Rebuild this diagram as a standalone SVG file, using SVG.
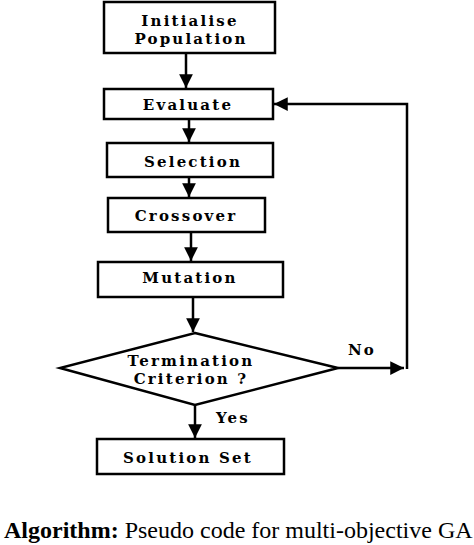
<svg xmlns="http://www.w3.org/2000/svg" width="474" height="545" viewBox="0 0 474 545">
<style>
.box{fill:#fff;stroke:#000;stroke-width:2.5}
.t{font-family:"DejaVu Serif",serif;font-weight:bold;font-size:15px;letter-spacing:2.2px;text-anchor:middle;fill:#000}
.c{stroke:#000;stroke-width:2.5;fill:none}
</style>
<defs>
<marker id="ah" viewBox="0 0 10 10" refX="10" refY="5" markerWidth="5.5" markerHeight="5.5" orient="auto" markerUnits="strokeWidth">
<path d="M0,0 L10,5 L0,10 z" fill="#000"/>
</marker>
</defs>
<rect width="474" height="545" fill="#fff"/>
<g id="connectors">
<line class="c" x1="186" y1="53" x2="186" y2="88" marker-end="url(#ah)"/>
<line class="c" x1="189" y1="119" x2="189" y2="142" marker-end="url(#ah)"/>
<line class="c" x1="189" y1="177" x2="189" y2="197" marker-end="url(#ah)"/>
<line class="c" x1="191" y1="232" x2="191" y2="261" marker-end="url(#ah)"/>
<line class="c" x1="193" y1="297" x2="193" y2="332" marker-end="url(#ah)"/>
<line class="c" x1="195" y1="405" x2="195" y2="438" marker-end="url(#ah)"/>
<line class="c" x1="338" y1="368" x2="404" y2="368" marker-end="url(#ah)"/>
<polyline class="c" points="407,369 407,104 274,104" marker-end="url(#ah)"/>
<text class="t" x="362" y="355">No</text>
<text class="t" x="233" y="423">Yes</text>
</g>
<g id="initialise">
<rect class="box" x="104" y="2" width="171" height="51"/>
<text class="t" x="190" y="26">Initialise</text>
<text class="t" x="191" y="44">Population</text>
</g>
<g id="evaluate">
<rect class="box" x="104" y="89" width="169" height="30"/>
<text class="t" x="188" y="110">Evaluate</text>
</g>
<g id="selection">
<rect class="box" x="107" y="143" width="166" height="34"/>
<text class="t" x="193" y="167">Selection</text>
</g>
<g id="crossover">
<rect class="box" x="108" y="198" width="157" height="34"/>
<text class="t" x="186" y="221">Crossover</text>
</g>
<g id="mutation">
<rect class="box" x="98" y="262" width="185" height="35"/>
<text class="t" x="190" y="283">Mutation</text>
</g>
<g id="termination">
<polygon class="box" points="195,333 338,368 195,405 60,368"/>
<text class="t" x="191" y="366">Termination</text>
<text class="t" x="191" y="384">Criterion ?</text>
</g>
<g id="solution">
<rect class="box" x="97" y="439" width="187" height="35"/>
<text class="t" x="188" y="463">Solution Set</text>
</g>
<g id="caption">
<text x="4" y="538" font-family="'Liberation Serif',serif" font-size="24" fill="#000"><tspan font-weight="bold">Algorithm:</tspan> Pseudo code for multi-objective GA</text>
</g>
</svg>
